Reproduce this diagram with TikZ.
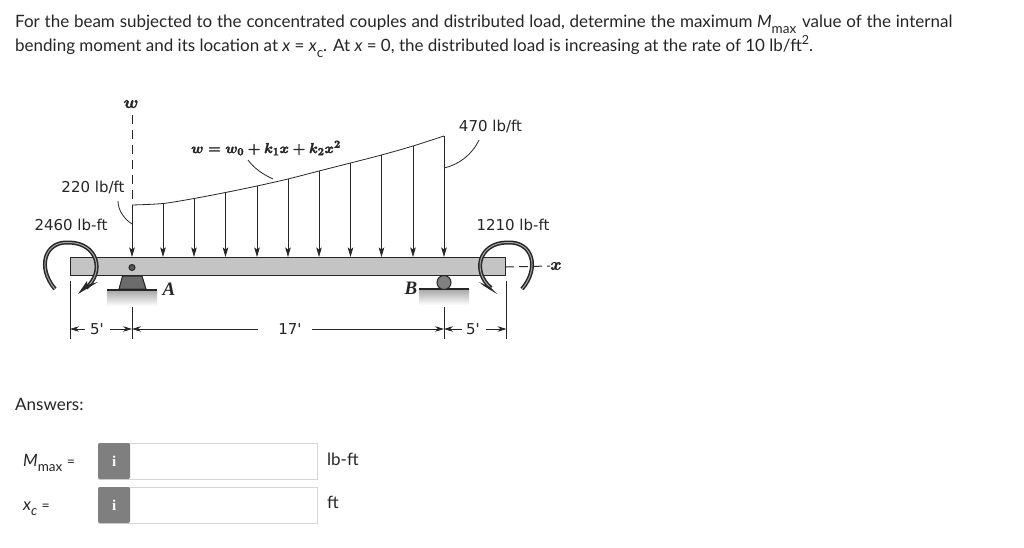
\documentclass[tikz,border=0pt]{standalone}
\usepackage{fontspec}
\setmainfont{Lato}
\newfontfamily\labelfont{DejaVu Sans}
\newfontfamily\mathserif{Liberation Serif}
\usetikzlibrary{arrows.meta,calc}
\newcommand{\subtxt}[1]{\raisebox{-0.3em}{\fontsize{13.5}{14}\selectfont #1}}
\newcommand{\suptxt}[1]{\raisebox{0.42em}{\fontsize{12.5}{14}\selectfont #1}}
\newcommand{\bmth}[1]{\special{pdf:code q 2 Tr 0.3 w 0.15 0.15 0.15 RG}{\boldmath$#1$}\special{pdf:code Q}}
\definecolor{ink}{HTML}{262626}
\definecolor{beamgray}{HTML}{C4C4C4}
\definecolor{boxgray}{HTML}{7F7F7F}
\definecolor{boxline}{HTML}{D6D6D6}
\tikzset{
  txt/.style={anchor=base west,inner sep=0pt,text=ink,font=\fontsize{17}{19}\selectfont},
  lab/.style={inner sep=0pt,text=ink,font=\labelfont\fontsize{15}{17}\selectfont},
  mth/.style={inner sep=0pt,text=ink,font=\fontsize{15.5}{18}\selectfont},
  axlabel/.style={inner sep=0pt,text=ink,font=\fontsize{18}{20}\selectfont},
  ptlabel/.style={inner sep=0pt,text=ink,font=\mathserif\bfseries\itshape\fontsize{19}{21}\selectfont},
  thinl/.style={draw=ink,line width=0.8pt},
  load/.style={draw=ink,line width=0.8pt,-{Stealth[length=9.5pt,width=5.5pt,inset=2pt]}},
  dim/.style={draw=ink,line width=0.8pt,-{Stealth[length=9pt,width=5.5pt,inset=3pt]}},
  ext/.style={draw=ink,line width=1pt},
  momout/.style={draw=ink,line width=4pt},
  momin/.style={draw=gray!70,line width=1pt},
  ground/.style={inner sep=0pt,minimum width=50pt,minimum height=16pt,top color=gray!70,bottom color=white,draw=none},
  ibox/.style={draw=boxline,fill=white,line width=1pt,minimum width=219pt,minimum height=36pt,inner sep=0pt,anchor=west},
  itag/.style={fill=boxgray,rounded corners=1.5pt,minimum width=32pt,minimum height=36pt,inner sep=0pt,anchor=west,text=white,font=\mathserif\bfseries\fontsize{15}{18}\selectfont}
}
\begin{document}
\begin{tikzpicture}[x=1pt,y=-1pt]
\useasboundingbox (0,0) rectangle (1024,548);
\fill[white] (0,0) rectangle (1024,548);
% statement
\node[txt] (line1) at (15,28) {\spaceskip=1.1\fontdimen2\font For the beam subjected to the concentrated couples and distributed load, determine the maximum \textit{M}\subtxt{max}\hspace{1pt} value of the internal};
\node[txt] (line2) at (15,52) {bending moment and its location at \textit{x} = \textit{x}\subtxt{c}. At \textit{x} = 0, the distributed load is increasing at the rate of 10 lb/ft\suptxt{2}.};
% load curve
\coordinate (t0) at (132,205);
\coordinate (t1) at (163,203.5);
\coordinate (t2) at (194,198.5);
\coordinate (t3) at (225.5,192.5);
\coordinate (t4) at (257,186);
\coordinate (t5) at (288,179);
\coordinate (t6) at (319,171);
\coordinate (t7) at (350.5,163);
\coordinate (t8) at (381.5,155);
\coordinate (t9) at (413,146);
\coordinate (t10) at (444,136);
\draw[thinl] plot[smooth] coordinates {(t0) (t1) (t2) (t3) (t4) (t5) (t6) (t7) (t8) (t9) (t10)};
% beam
\node[draw=ink,fill=beamgray,line width=1pt,minimum width=435pt,minimum height=18pt,inner sep=0pt] (beam) at (287.5,266) {};
\foreach \i/\xx in {0/132,1/163,2/194,3/225.5,4/257,5/288,6/319,7/350.5,8/381.5,9/413,10/444}{
  \coordinate (b\i) at (\xx,257);
  \draw[load] (t\i) -- (b\i);
}
% w axis
\node[axlabel] (waxis) at (131,104) {\bmth{w}};
\coordinate (wtop) at (132,115);
\draw[draw=ink,line width=1pt,dash pattern=on 9pt off 6pt] (wtop) -- (t0);
% supports
\draw[draw=ink,fill=gray!85!black,line width=1pt] (119,289) -- (122.5,276) -- (142,276) -- (146,289) -- cycle;
\node[ground] (gA) at (132,298) {};
\draw[draw=ink,line width=1.2pt] (107,290) -- (157,290);
\node[circle,draw=ink,fill=gray!70!black,line width=1pt,minimum size=6pt,inner sep=0pt] (pinA) at (132,267.5) {};
\node[ground] (gB) at (444,297) {};
\draw[draw=ink,line width=1.2pt] (419,289) -- (469,289);
\node[circle,draw=ink,fill=gray,line width=1pt,minimum size=14pt,inner sep=0pt] (rollB) at (444,282.5) {};
\node[ptlabel] (labA) at (169,289) {A};
\node[ptlabel] (labB) at (411,288) {B};
% x axis
\coordinate (xs) at (505,267);
\node[axlabel] (xlab) at (556,266) {\bmth{x}};
\draw[draw=ink,line width=1pt,dash pattern=on 9pt off 5pt] (xs) -- (xlab.west);
% couples
\coordinate (mlend) at (55,289);
\coordinate (mltip) at (78,294);
\coordinate (mrend) at (522,289);
\coordinate (mrtip) at (497,294);
\foreach \st in {momout,momin}{
  \draw[\st] (mlend) .. controls (37,268) and (44,241) .. (69,242.5)
     .. controls (98,243) and (105,272) .. (86,288);
  \draw[\st] (mrend) .. controls (540,268) and (533,241) .. (507,242.5)
     .. controls (478,243) and (472,272) .. (491,288);
}
\fill[ink] (mltip) -- (87,281) -- (87,285) -- (98,282) -- cycle;
\fill[ink] (mrtip) -- (490,287) -- (479,282) -- (484,286) -- cycle;
% labels
\node[lab] (l220) at (93,187) {220 lb/ft};
\node[lab] (l2460) at (71,225) {2460 lb-ft};
\node[lab] (l470) at (490.5,126) {470 lb/ft};
\node[lab] (l1210) at (513,225) {1210 lb-ft};
\node[mth] (wform) at (266,148) {\bmth{w = w_0 + k_1 x + k_2 x^2}};
% leaders
\coordinate (c220) at (118,201);
\coordinate (p220) at (132,224);
\draw[thinl] (c220) .. controls (118,210) and (124,219) .. (p220);
\coordinate (c470) at (479,140);
\coordinate (p470) at (444,168);
\draw[thinl] (c470) .. controls (472,155) and (458,165) .. (p470);
\coordinate (cw) at (248,160);
\coordinate (pw) at (273,179);
\draw[thinl] (cw) .. controls (254,168) and (262,174) .. (pw);
% dimensions
\coordinate (e1a) at (70,281); \coordinate (e1b) at (70,339);
\coordinate (e2a) at (132,307); \coordinate (e2b) at (132,339);
\coordinate (e3a) at (444,307); \coordinate (e3b) at (444,339);
\coordinate (e4a) at (506.5,281); \coordinate (e4b) at (506.5,339);
\draw[ext] (e1a) -- (e1b);
\draw[ext] (e2a) -- (e2b);
\draw[ext] (e3a) -- (e3b);
\draw[ext] (e4a) -- (e4b);
\coordinate (d1) at (70,329); \coordinate (d2) at (132,329);
\coordinate (d3) at (444,329); \coordinate (d4) at (506.5,329);
\node[lab] (dim5l) at (97,329) {5'};
\node[lab] (dim17) at (290,329) {17'};
\node[lab] (dim5r) at (473,329) {5'};
\draw[dim] ($(dim5l.west)+(-5,0)$) -- (d1);
\draw[dim] ($(dim5l.east)+(6,0)$) -- (d2);
\draw[dim] ($(dim17.west)+(-20,0)$) -- (d2);
\draw[dim] ($(dim17.east)+(10,0)$) -- (d3);
\draw[dim] ($(dim5r.west)+(-4,0)$) -- (d3);
\draw[dim] ($(dim5r.east)+(6,0)$) -- (d4);
% answers
\node[txt] (ans) at (15,410) {Answers:};
\node[txt] (mmax) at (23,466) {\textit{M}\subtxt{max} \fontsize{14}{16}\selectfont =};
\node[txt] (xc) at (23,510) {\textit{x}\subtxt{\textit{c}} \fontsize{14}{16}\selectfont =};
\node[ibox] (box1) at (98,461) {};
\node[itag] (tag1) at (98,461) {i};
\node[ibox] (box2) at (98,505) {};
\node[itag] (tag2) at (98,505) {i};
\node[txt] (unit1) at (327,465) {lb-ft};
\node[txt] (unit2) at (327,508) {ft};
\end{tikzpicture}
\end{document}
